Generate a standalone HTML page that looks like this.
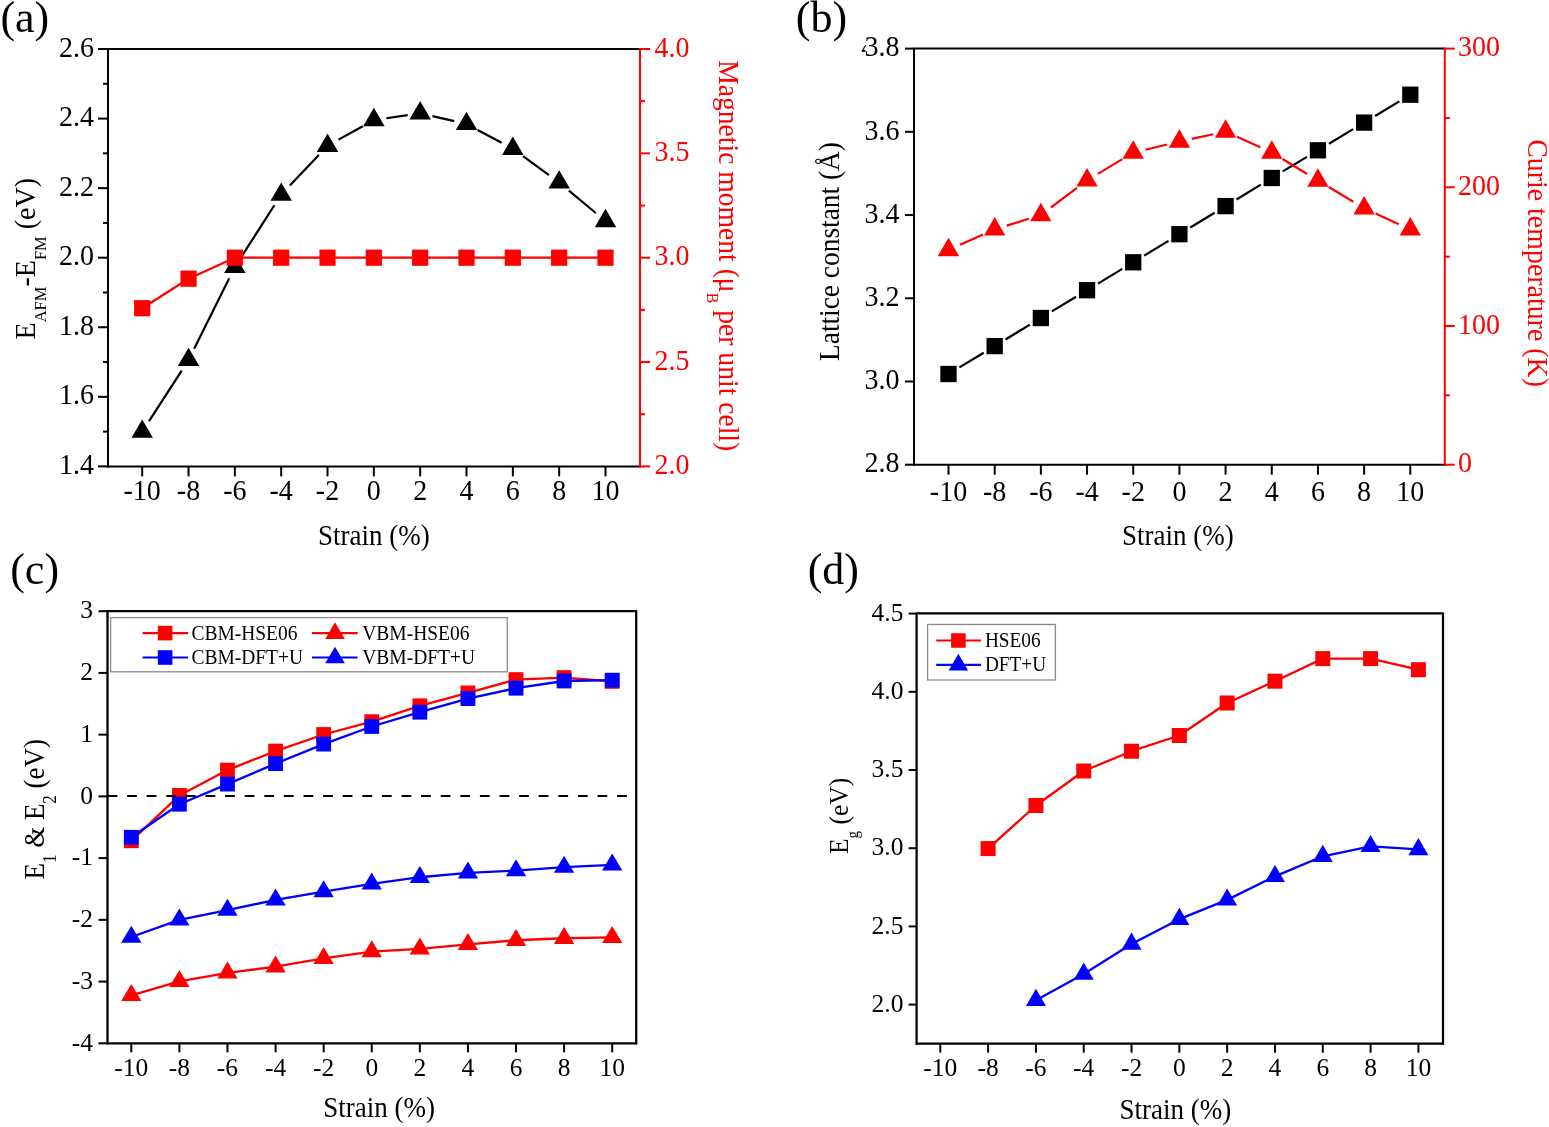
<!DOCTYPE html>
<html><head><meta charset="utf-8"><title>Strain dependence</title>
<style>html,body{margin:0;padding:0;background:#fff;}svg{display:block;}</style>
</head><body>
<svg width="1549" height="1127" viewBox="0 0 1549 1127" font-family="&apos;Liberation Serif&apos;, serif">
<rect width="1549" height="1127" fill="#fff"/>
<line x1="107" y1="49" x2="640" y2="49" stroke="#000000" stroke-width="2" />
<line x1="108" y1="49" x2="108" y2="467.4" stroke="#000000" stroke-width="2" />
<line x1="107" y1="466.4" x2="641" y2="466.4" stroke="#000000" stroke-width="2" />
<line x1="640" y1="48" x2="640" y2="467.4" stroke="#ff0000" stroke-width="2" />
<line x1="98" y1="466.4" x2="108" y2="466.4" stroke="#000000" stroke-width="2" />
<text transform="translate(94.1,474) scale(1,1.04)" font-size="28" text-anchor="end" fill="#000000" >1.4</text>
<line x1="103" y1="431.62" x2="108" y2="431.62" stroke="#000000" stroke-width="2" />
<line x1="98" y1="396.83" x2="108" y2="396.83" stroke="#000000" stroke-width="2" />
<text transform="translate(94.1,404.43) scale(1,1.04)" font-size="28" text-anchor="end" fill="#000000" >1.6</text>
<line x1="103" y1="362.05" x2="108" y2="362.05" stroke="#000000" stroke-width="2" />
<line x1="98" y1="327.27" x2="108" y2="327.27" stroke="#000000" stroke-width="2" />
<text transform="translate(94.1,334.87) scale(1,1.04)" font-size="28" text-anchor="end" fill="#000000" >1.8</text>
<line x1="103" y1="292.48" x2="108" y2="292.48" stroke="#000000" stroke-width="2" />
<line x1="98" y1="257.7" x2="108" y2="257.7" stroke="#000000" stroke-width="2" />
<text transform="translate(94.1,265.3) scale(1,1.04)" font-size="28" text-anchor="end" fill="#000000" >2.0</text>
<line x1="103" y1="222.92" x2="108" y2="222.92" stroke="#000000" stroke-width="2" />
<line x1="98" y1="188.13" x2="108" y2="188.13" stroke="#000000" stroke-width="2" />
<text transform="translate(94.1,195.73) scale(1,1.04)" font-size="28" text-anchor="end" fill="#000000" >2.2</text>
<line x1="103" y1="153.35" x2="108" y2="153.35" stroke="#000000" stroke-width="2" />
<line x1="98" y1="118.57" x2="108" y2="118.57" stroke="#000000" stroke-width="2" />
<text transform="translate(94.1,126.17) scale(1,1.04)" font-size="28" text-anchor="end" fill="#000000" >2.4</text>
<line x1="103" y1="83.78" x2="108" y2="83.78" stroke="#000000" stroke-width="2" />
<line x1="98" y1="49" x2="108" y2="49" stroke="#000000" stroke-width="2" />
<text transform="translate(94.1,56.6) scale(1,1.04)" font-size="28" text-anchor="end" fill="#000000" >2.6</text>
<line x1="640" y1="466.4" x2="650" y2="466.4" stroke="#ff0000" stroke-width="2" />
<text transform="translate(654.5,474) scale(1,1.04)" font-size="28" text-anchor="start" fill="#ff0000" >2.0</text>
<line x1="640" y1="414.22" x2="645" y2="414.22" stroke="#ff0000" stroke-width="2" />
<line x1="640" y1="362.05" x2="650" y2="362.05" stroke="#ff0000" stroke-width="2" />
<text transform="translate(654.5,369.65) scale(1,1.04)" font-size="28" text-anchor="start" fill="#ff0000" >2.5</text>
<line x1="640" y1="309.88" x2="645" y2="309.88" stroke="#ff0000" stroke-width="2" />
<line x1="640" y1="257.7" x2="650" y2="257.7" stroke="#ff0000" stroke-width="2" />
<text transform="translate(654.5,265.3) scale(1,1.04)" font-size="28" text-anchor="start" fill="#ff0000" >3.0</text>
<line x1="640" y1="205.52" x2="645" y2="205.52" stroke="#ff0000" stroke-width="2" />
<line x1="640" y1="153.35" x2="650" y2="153.35" stroke="#ff0000" stroke-width="2" />
<text transform="translate(654.5,160.95) scale(1,1.04)" font-size="28" text-anchor="start" fill="#ff0000" >3.5</text>
<line x1="640" y1="101.18" x2="645" y2="101.18" stroke="#ff0000" stroke-width="2" />
<line x1="640" y1="49" x2="650" y2="49" stroke="#ff0000" stroke-width="2" />
<text transform="translate(654.5,56.6) scale(1,1.04)" font-size="28" text-anchor="start" fill="#ff0000" >4.0</text>
<line x1="142.2" y1="466.4" x2="142.2" y2="476.4" stroke="#000000" stroke-width="2" />
<text transform="translate(142.2,500) scale(1,1.04)" font-size="28" text-anchor="middle" fill="#000000" >-10</text>
<line x1="188.53" y1="466.4" x2="188.53" y2="476.4" stroke="#000000" stroke-width="2" />
<text transform="translate(188.53,500) scale(1,1.04)" font-size="28" text-anchor="middle" fill="#000000" >-8</text>
<line x1="234.86" y1="466.4" x2="234.86" y2="476.4" stroke="#000000" stroke-width="2" />
<text transform="translate(234.86,500) scale(1,1.04)" font-size="28" text-anchor="middle" fill="#000000" >-6</text>
<line x1="281.19" y1="466.4" x2="281.19" y2="476.4" stroke="#000000" stroke-width="2" />
<text transform="translate(281.19,500) scale(1,1.04)" font-size="28" text-anchor="middle" fill="#000000" >-4</text>
<line x1="327.52" y1="466.4" x2="327.52" y2="476.4" stroke="#000000" stroke-width="2" />
<text transform="translate(327.52,500) scale(1,1.04)" font-size="28" text-anchor="middle" fill="#000000" >-2</text>
<line x1="373.85" y1="466.4" x2="373.85" y2="476.4" stroke="#000000" stroke-width="2" />
<text transform="translate(373.85,500) scale(1,1.04)" font-size="28" text-anchor="middle" fill="#000000" >0</text>
<line x1="420.18" y1="466.4" x2="420.18" y2="476.4" stroke="#000000" stroke-width="2" />
<text transform="translate(420.18,500) scale(1,1.04)" font-size="28" text-anchor="middle" fill="#000000" >2</text>
<line x1="466.51" y1="466.4" x2="466.51" y2="476.4" stroke="#000000" stroke-width="2" />
<text transform="translate(466.51,500) scale(1,1.04)" font-size="28" text-anchor="middle" fill="#000000" >4</text>
<line x1="512.84" y1="466.4" x2="512.84" y2="476.4" stroke="#000000" stroke-width="2" />
<text transform="translate(512.84,500) scale(1,1.04)" font-size="28" text-anchor="middle" fill="#000000" >6</text>
<line x1="559.17" y1="466.4" x2="559.17" y2="476.4" stroke="#000000" stroke-width="2" />
<text transform="translate(559.17,500) scale(1,1.04)" font-size="28" text-anchor="middle" fill="#000000" >8</text>
<line x1="605.5" y1="466.4" x2="605.5" y2="476.4" stroke="#000000" stroke-width="2" />
<text transform="translate(605.5,500) scale(1,1.04)" font-size="28" text-anchor="middle" fill="#000000" >10</text>
<text transform="translate(318,544.8) scale(1,1.06)" font-size="27" text-anchor="start" fill="#000000" >Strain (%)</text>
<text transform="translate(35,339.4) rotate(-90) scale(1,1.06)" font-size="28" fill="#000000">E<tspan font-size="16.5" dy="10.5">AFM</tspan><tspan dy="-10.5">-E</tspan><tspan font-size="16.5" dy="10.5">FM</tspan><tspan dy="-10.5"> (eV)</tspan></text>
<text transform="translate(719.1,60.2) rotate(90) scale(1,1.06)" font-size="27.6" fill="#ff0000">Magnetic moment (μ<tspan font-size="16" dy="11">B</tspan><tspan dy="-11"> per unit cell)</tspan></text>
<text transform="translate(0.4,31.6) scale(1,1.0)" font-size="44" text-anchor="start" fill="#000000" >(a)</text>
<line x1="149.04" y1="421.08" x2="181.69" y2="370.55" stroke="#000000" stroke-width="2.2" />
<line x1="194.15" y1="348.69" x2="229.24" y2="278.24" stroke="#000000" stroke-width="2.2" />
<line x1="241.66" y1="256.36" x2="274.39" y2="205.28" stroke="#000000" stroke-width="2.2" />
<line x1="289.86" y1="185.52" x2="318.85" y2="154.91" stroke="#000000" stroke-width="2.2" />
<line x1="338.54" y1="139.65" x2="362.83" y2="126.18" stroke="#000000" stroke-width="2.2" />
<line x1="386.32" y1="118.24" x2="407.71" y2="115.1" stroke="#000000" stroke-width="2.2" />
<line x1="432.46" y1="116.1" x2="454.23" y2="121.13" stroke="#000000" stroke-width="2.2" />
<line x1="477.62" y1="129.91" x2="501.73" y2="142.82" stroke="#000000" stroke-width="2.2" />
<line x1="523.03" y1="156.18" x2="548.98" y2="175.05" stroke="#000000" stroke-width="2.2" />
<line x1="568.85" y1="190.53" x2="595.82" y2="213" stroke="#000000" stroke-width="2.2" />
<polygon points="142.2,419.4 152.95,437.8 131.45,437.8" fill="#000000"/>
<polygon points="188.53,347.7 199.28,366.1 177.78,366.1" fill="#000000"/>
<polygon points="234.86,254.7 245.61,273.1 224.11,273.1" fill="#000000"/>
<polygon points="281.19,182.4 291.94,200.8 270.44,200.8" fill="#000000"/>
<polygon points="327.52,133.5 338.27,151.9 316.77,151.9" fill="#000000"/>
<polygon points="373.85,107.8 384.6,126.2 363.1,126.2" fill="#000000"/>
<polygon points="420.18,101 430.93,119.4 409.43,119.4" fill="#000000"/>
<polygon points="466.51,111.7 477.26,130.1 455.76,130.1" fill="#000000"/>
<polygon points="512.84,136.5 523.59,154.9 502.09,154.9" fill="#000000"/>
<polygon points="559.17,170.2 569.92,188.6 548.42,188.6" fill="#000000"/>
<polygon points="605.5,208.8 616.25,227.2 594.75,227.2" fill="#000000"/>
<polyline points="142.2,308.2 188.53,278.7 234.86,257.7 281.19,257.7 327.52,257.7 373.85,257.7 420.18,257.7 466.51,257.7 512.84,257.7 559.17,257.7 605.5,257.7" fill="none" stroke="#ff0000" stroke-width="2.2" stroke-linejoin="round"/>
<rect x="134.1" y="300.1" width="16.2" height="16.2" fill="#ff0000"/>
<rect x="180.43" y="270.6" width="16.2" height="16.2" fill="#ff0000"/>
<rect x="226.76" y="249.6" width="16.2" height="16.2" fill="#ff0000"/>
<rect x="273.09" y="249.6" width="16.2" height="16.2" fill="#ff0000"/>
<rect x="319.42" y="249.6" width="16.2" height="16.2" fill="#ff0000"/>
<rect x="365.75" y="249.6" width="16.2" height="16.2" fill="#ff0000"/>
<rect x="412.08" y="249.6" width="16.2" height="16.2" fill="#ff0000"/>
<rect x="458.41" y="249.6" width="16.2" height="16.2" fill="#ff0000"/>
<rect x="504.74" y="249.6" width="16.2" height="16.2" fill="#ff0000"/>
<rect x="551.07" y="249.6" width="16.2" height="16.2" fill="#ff0000"/>
<rect x="597.4" y="249.6" width="16.2" height="16.2" fill="#ff0000"/>
<line x1="913" y1="48.6" x2="1444.8" y2="48.6" stroke="#000000" stroke-width="2" />
<line x1="914" y1="48.6" x2="914" y2="465.7" stroke="#000000" stroke-width="2" />
<line x1="913" y1="464.7" x2="1445.8" y2="464.7" stroke="#000000" stroke-width="2" />
<line x1="1444.8" y1="47.6" x2="1444.8" y2="465.7" stroke="#ff0000" stroke-width="2" />
<line x1="905" y1="464.7" x2="914" y2="464.7" stroke="#000000" stroke-width="2" />
<text transform="translate(899.5,472.4) scale(1,1.04)" font-size="28" text-anchor="end" fill="#000000" >2.8</text>
<line x1="905" y1="381.48" x2="914" y2="381.48" stroke="#000000" stroke-width="2" />
<text transform="translate(899.5,389.18) scale(1,1.04)" font-size="28" text-anchor="end" fill="#000000" >3.0</text>
<line x1="905" y1="298.26" x2="914" y2="298.26" stroke="#000000" stroke-width="2" />
<text transform="translate(899.5,305.96) scale(1,1.04)" font-size="28" text-anchor="end" fill="#000000" >3.2</text>
<line x1="905" y1="215.04" x2="914" y2="215.04" stroke="#000000" stroke-width="2" />
<text transform="translate(899.5,222.74) scale(1,1.04)" font-size="28" text-anchor="end" fill="#000000" >3.4</text>
<line x1="905" y1="131.82" x2="914" y2="131.82" stroke="#000000" stroke-width="2" />
<text transform="translate(899.5,139.52) scale(1,1.04)" font-size="28" text-anchor="end" fill="#000000" >3.6</text>
<line x1="905" y1="48.6" x2="914" y2="48.6" stroke="#000000" stroke-width="2" />
<text transform="translate(899.5,56.3) scale(1,1.04)" font-size="28" text-anchor="end" fill="#000000" >3.8</text>
<line x1="1444.8" y1="464.7" x2="1454.8" y2="464.7" stroke="#ff0000" stroke-width="2" />
<text transform="translate(1458,472.4) scale(1,1.04)" font-size="28" text-anchor="start" fill="#ff0000" >0</text>
<line x1="1444.8" y1="395.35" x2="1449.8" y2="395.35" stroke="#ff0000" stroke-width="2" />
<line x1="1444.8" y1="326" x2="1454.8" y2="326" stroke="#ff0000" stroke-width="2" />
<text transform="translate(1458,333.7) scale(1,1.04)" font-size="28" text-anchor="start" fill="#ff0000" >100</text>
<line x1="1444.8" y1="256.65" x2="1449.8" y2="256.65" stroke="#ff0000" stroke-width="2" />
<line x1="1444.8" y1="187.3" x2="1454.8" y2="187.3" stroke="#ff0000" stroke-width="2" />
<text transform="translate(1458,195) scale(1,1.04)" font-size="28" text-anchor="start" fill="#ff0000" >200</text>
<line x1="1444.8" y1="117.95" x2="1449.8" y2="117.95" stroke="#ff0000" stroke-width="2" />
<line x1="1444.8" y1="48.6" x2="1454.8" y2="48.6" stroke="#ff0000" stroke-width="2" />
<text transform="translate(1458,56.3) scale(1,1.04)" font-size="28" text-anchor="start" fill="#ff0000" >300</text>
<line x1="948.5" y1="464.7" x2="948.5" y2="474.7" stroke="#000000" stroke-width="2" />
<text transform="translate(948.5,501.4) scale(1,1.04)" font-size="28" text-anchor="middle" fill="#000000" >-10</text>
<line x1="994.68" y1="464.7" x2="994.68" y2="474.7" stroke="#000000" stroke-width="2" />
<text transform="translate(994.68,501.4) scale(1,1.04)" font-size="28" text-anchor="middle" fill="#000000" >-8</text>
<line x1="1040.86" y1="464.7" x2="1040.86" y2="474.7" stroke="#000000" stroke-width="2" />
<text transform="translate(1040.86,501.4) scale(1,1.04)" font-size="28" text-anchor="middle" fill="#000000" >-6</text>
<line x1="1087.04" y1="464.7" x2="1087.04" y2="474.7" stroke="#000000" stroke-width="2" />
<text transform="translate(1087.04,501.4) scale(1,1.04)" font-size="28" text-anchor="middle" fill="#000000" >-4</text>
<line x1="1133.22" y1="464.7" x2="1133.22" y2="474.7" stroke="#000000" stroke-width="2" />
<text transform="translate(1133.22,501.4) scale(1,1.04)" font-size="28" text-anchor="middle" fill="#000000" >-2</text>
<line x1="1179.4" y1="464.7" x2="1179.4" y2="474.7" stroke="#000000" stroke-width="2" />
<text transform="translate(1179.4,501.4) scale(1,1.04)" font-size="28" text-anchor="middle" fill="#000000" >0</text>
<line x1="1225.58" y1="464.7" x2="1225.58" y2="474.7" stroke="#000000" stroke-width="2" />
<text transform="translate(1225.58,501.4) scale(1,1.04)" font-size="28" text-anchor="middle" fill="#000000" >2</text>
<line x1="1271.76" y1="464.7" x2="1271.76" y2="474.7" stroke="#000000" stroke-width="2" />
<text transform="translate(1271.76,501.4) scale(1,1.04)" font-size="28" text-anchor="middle" fill="#000000" >4</text>
<line x1="1317.94" y1="464.7" x2="1317.94" y2="474.7" stroke="#000000" stroke-width="2" />
<text transform="translate(1317.94,501.4) scale(1,1.04)" font-size="28" text-anchor="middle" fill="#000000" >6</text>
<line x1="1364.12" y1="464.7" x2="1364.12" y2="474.7" stroke="#000000" stroke-width="2" />
<text transform="translate(1364.12,501.4) scale(1,1.04)" font-size="28" text-anchor="middle" fill="#000000" >8</text>
<line x1="1410.3" y1="464.7" x2="1410.3" y2="474.7" stroke="#000000" stroke-width="2" />
<text transform="translate(1410.3,501.4) scale(1,1.04)" font-size="28" text-anchor="middle" fill="#000000" >10</text>
<text transform="translate(1122.1,544.8) scale(1,1.06)" font-size="27" text-anchor="start" fill="#000000" >Strain (%)</text>
<text transform="translate(838.8,361) rotate(-90) scale(1,1.06)" font-size="27.4" fill="#000000">Lattice constant (Å)</text>
<text transform="translate(1527.5,139.2) rotate(90) scale(1,1.06)" font-size="27.9" fill="#ff0000">Curie temperature (K)</text>
<text transform="translate(795.8,31.6) scale(1,1.0)" font-size="44" text-anchor="start" fill="#000000" >(b)</text>
<line x1="959.46" y1="367.38" x2="983.72" y2="352.72" stroke="#000000" stroke-width="2.2" />
<line x1="1005.61" y1="339.45" x2="1029.93" y2="324.65" stroke="#000000" stroke-width="2.2" />
<line x1="1051.83" y1="311.4" x2="1076.07" y2="296.8" stroke="#000000" stroke-width="2.2" />
<line x1="1098" y1="283.58" x2="1122.26" y2="268.92" stroke="#000000" stroke-width="2.2" />
<line x1="1144.15" y1="255.65" x2="1168.47" y2="240.85" stroke="#000000" stroke-width="2.2" />
<line x1="1190.33" y1="227.55" x2="1214.65" y2="212.75" stroke="#000000" stroke-width="2.2" />
<line x1="1236.51" y1="199.45" x2="1260.83" y2="184.65" stroke="#000000" stroke-width="2.2" />
<line x1="1282.74" y1="171.42" x2="1306.96" y2="156.88" stroke="#000000" stroke-width="2.2" />
<line x1="1328.92" y1="143.72" x2="1353.14" y2="129.18" stroke="#000000" stroke-width="2.2" />
<line x1="1375.08" y1="115.98" x2="1399.34" y2="101.32" stroke="#000000" stroke-width="2.2" />
<rect x="940.35" y="365.85" width="16.3" height="16.3" fill="#000000"/>
<rect x="986.53" y="337.95" width="16.3" height="16.3" fill="#000000"/>
<rect x="1032.71" y="309.85" width="16.3" height="16.3" fill="#000000"/>
<rect x="1078.89" y="282.05" width="16.3" height="16.3" fill="#000000"/>
<rect x="1125.07" y="254.15" width="16.3" height="16.3" fill="#000000"/>
<rect x="1171.25" y="226.05" width="16.3" height="16.3" fill="#000000"/>
<rect x="1217.43" y="197.95" width="16.3" height="16.3" fill="#000000"/>
<rect x="1263.61" y="169.85" width="16.3" height="16.3" fill="#000000"/>
<rect x="1309.79" y="142.15" width="16.3" height="16.3" fill="#000000"/>
<rect x="1355.97" y="114.45" width="16.3" height="16.3" fill="#000000"/>
<rect x="1402.15" y="86.55" width="16.3" height="16.3" fill="#000000"/>
<line x1="960.01" y1="244.85" x2="983.17" y2="234.52" stroke="#ff0000" stroke-width="2.2" />
<line x1="1006.72" y1="225.66" x2="1028.82" y2="218.81" stroke="#ff0000" stroke-width="2.2" />
<line x1="1050.92" y1="207.5" x2="1076.98" y2="187.87" stroke="#ff0000" stroke-width="2.2" />
<line x1="1097.86" y1="173.82" x2="1122.4" y2="159.15" stroke="#ff0000" stroke-width="2.2" />
<line x1="1145.47" y1="149.71" x2="1167.15" y2="144.45" stroke="#ff0000" stroke-width="2.2" />
<line x1="1191.72" y1="138.84" x2="1213.26" y2="134.22" stroke="#ff0000" stroke-width="2.2" />
<line x1="1237.06" y1="136.78" x2="1260.28" y2="147.29" stroke="#ff0000" stroke-width="2.2" />
<line x1="1282.52" y1="159.03" x2="1307.18" y2="174.03" stroke="#ff0000" stroke-width="2.2" />
<line x1="1328.75" y1="187.06" x2="1353.31" y2="201.8" stroke="#ff0000" stroke-width="2.2" />
<line x1="1375.58" y1="213.52" x2="1398.84" y2="224.15" stroke="#ff0000" stroke-width="2.2" />
<polygon points="948.5,237.65 959.15,256.15 937.85,256.15" fill="#ff0000"/>
<polygon points="994.68,217.05 1005.33,235.55 984.03,235.55" fill="#ff0000"/>
<polygon points="1040.86,202.75 1051.51,221.25 1030.21,221.25" fill="#ff0000"/>
<polygon points="1087.04,167.95 1097.69,186.45 1076.39,186.45" fill="#ff0000"/>
<polygon points="1133.22,140.35 1143.87,158.85 1122.57,158.85" fill="#ff0000"/>
<polygon points="1179.4,129.15 1190.05,147.65 1168.75,147.65" fill="#ff0000"/>
<polygon points="1225.58,119.25 1236.23,137.75 1214.93,137.75" fill="#ff0000"/>
<polygon points="1271.76,140.15 1282.41,158.65 1261.11,158.65" fill="#ff0000"/>
<polygon points="1317.94,168.25 1328.59,186.75 1307.29,186.75" fill="#ff0000"/>
<polygon points="1364.12,195.95 1374.77,214.45 1353.47,214.45" fill="#ff0000"/>
<polygon points="1410.3,217.05 1420.95,235.55 1399.65,235.55" fill="#ff0000"/>
<path d="M865.7,45.2 L862.5,50.2" fill="none" stroke="#000" stroke-width="1.1"/><ellipse cx="863.6" cy="50.9" rx="2.1" ry="1.1" fill="#000"/>
<line x1="106.5" y1="611.2" x2="636.2" y2="611.2" stroke="#000000" stroke-width="2.3" />
<line x1="107.5" y1="611.2" x2="107.5" y2="1044.3" stroke="#000000" stroke-width="2.3" />
<line x1="106.5" y1="1043.3" x2="637.2" y2="1043.3" stroke="#000000" stroke-width="2.3" />
<line x1="636.2" y1="610.2" x2="636.2" y2="1044.3" stroke="#000000" stroke-width="2.3" />
<line x1="98.5" y1="1043.3" x2="107.5" y2="1043.3" stroke="#000000" stroke-width="2" />
<text transform="translate(93.1,1050.5) scale(1,1.02)" font-size="25.5" text-anchor="end" fill="#000000" >-4</text>
<line x1="98.5" y1="981.57" x2="107.5" y2="981.57" stroke="#000000" stroke-width="2" />
<text transform="translate(93.1,988.77) scale(1,1.02)" font-size="25.5" text-anchor="end" fill="#000000" >-3</text>
<line x1="98.5" y1="919.84" x2="107.5" y2="919.84" stroke="#000000" stroke-width="2" />
<text transform="translate(93.1,927.04) scale(1,1.02)" font-size="25.5" text-anchor="end" fill="#000000" >-2</text>
<line x1="98.5" y1="858.11" x2="107.5" y2="858.11" stroke="#000000" stroke-width="2" />
<text transform="translate(93.1,865.31) scale(1,1.02)" font-size="25.5" text-anchor="end" fill="#000000" >-1</text>
<line x1="98.5" y1="796.39" x2="107.5" y2="796.39" stroke="#000000" stroke-width="2" />
<text transform="translate(93.1,803.59) scale(1,1.02)" font-size="25.5" text-anchor="end" fill="#000000" >0</text>
<line x1="98.5" y1="734.66" x2="107.5" y2="734.66" stroke="#000000" stroke-width="2" />
<text transform="translate(93.1,741.86) scale(1,1.02)" font-size="25.5" text-anchor="end" fill="#000000" >1</text>
<line x1="98.5" y1="672.93" x2="107.5" y2="672.93" stroke="#000000" stroke-width="2" />
<text transform="translate(93.1,680.13) scale(1,1.02)" font-size="25.5" text-anchor="end" fill="#000000" >2</text>
<line x1="98.5" y1="611.2" x2="107.5" y2="611.2" stroke="#000000" stroke-width="2" />
<text transform="translate(93.1,618.4) scale(1,1.02)" font-size="25.5" text-anchor="end" fill="#000000" >3</text>
<line x1="131.3" y1="1043.3" x2="131.3" y2="1052.3" stroke="#000000" stroke-width="2" />
<text transform="translate(131.3,1075.6) scale(1,1.02)" font-size="25.5" text-anchor="middle" fill="#000000" >-10</text>
<line x1="179.39" y1="1043.3" x2="179.39" y2="1052.3" stroke="#000000" stroke-width="2" />
<text transform="translate(179.39,1075.6) scale(1,1.02)" font-size="25.5" text-anchor="middle" fill="#000000" >-8</text>
<line x1="227.48" y1="1043.3" x2="227.48" y2="1052.3" stroke="#000000" stroke-width="2" />
<text transform="translate(227.48,1075.6) scale(1,1.02)" font-size="25.5" text-anchor="middle" fill="#000000" >-6</text>
<line x1="275.57" y1="1043.3" x2="275.57" y2="1052.3" stroke="#000000" stroke-width="2" />
<text transform="translate(275.57,1075.6) scale(1,1.02)" font-size="25.5" text-anchor="middle" fill="#000000" >-4</text>
<line x1="323.66" y1="1043.3" x2="323.66" y2="1052.3" stroke="#000000" stroke-width="2" />
<text transform="translate(323.66,1075.6) scale(1,1.02)" font-size="25.5" text-anchor="middle" fill="#000000" >-2</text>
<line x1="371.75" y1="1043.3" x2="371.75" y2="1052.3" stroke="#000000" stroke-width="2" />
<text transform="translate(371.75,1075.6) scale(1,1.02)" font-size="25.5" text-anchor="middle" fill="#000000" >0</text>
<line x1="419.84" y1="1043.3" x2="419.84" y2="1052.3" stroke="#000000" stroke-width="2" />
<text transform="translate(419.84,1075.6) scale(1,1.02)" font-size="25.5" text-anchor="middle" fill="#000000" >2</text>
<line x1="467.93" y1="1043.3" x2="467.93" y2="1052.3" stroke="#000000" stroke-width="2" />
<text transform="translate(467.93,1075.6) scale(1,1.02)" font-size="25.5" text-anchor="middle" fill="#000000" >4</text>
<line x1="516.02" y1="1043.3" x2="516.02" y2="1052.3" stroke="#000000" stroke-width="2" />
<text transform="translate(516.02,1075.6) scale(1,1.02)" font-size="25.5" text-anchor="middle" fill="#000000" >6</text>
<line x1="564.11" y1="1043.3" x2="564.11" y2="1052.3" stroke="#000000" stroke-width="2" />
<text transform="translate(564.11,1075.6) scale(1,1.02)" font-size="25.5" text-anchor="middle" fill="#000000" >8</text>
<line x1="612.2" y1="1043.3" x2="612.2" y2="1052.3" stroke="#000000" stroke-width="2" />
<text transform="translate(612.2,1075.6) scale(1,1.02)" font-size="25.5" text-anchor="middle" fill="#000000" >10</text>
<text transform="translate(323.3,1117.4) scale(1,1.06)" font-size="27" text-anchor="start" fill="#000000" >Strain (%)</text>
<text transform="translate(44.4,879.6) rotate(-90) scale(1,1.06)" font-size="27" fill="#000000">E<tspan font-size="17" dy="11">1</tspan><tspan dy="-11"> &amp; E</tspan><tspan font-size="17" dy="11">2</tspan><tspan dy="-11"> (eV)</tspan></text>
<text transform="translate(10.2,583.7) scale(1,1.0)" font-size="44" text-anchor="start" fill="#000000" >(c)</text>
<rect x="110.6" y="617.6" width="396.7" height="54.2" fill="#fff" stroke="#8a8a8a" stroke-width="1.3"/>
<line x1="142.6" y1="633.1" x2="188.1" y2="633.1" stroke="#ff0000" stroke-width="2.2" />
<rect x="157.8" y="625.8" width="14.6" height="14.6" fill="#ff0000"/>
<text transform="translate(191.4,640.1) scale(1,1.06)" font-size="19.5" text-anchor="start" fill="#000000" >CBM-HSE06</text>
<line x1="312" y1="633.1" x2="357.6" y2="633.1" stroke="#ff0000" stroke-width="2.2" />
<polygon points="335,622.27 344.8,638.97 325.2,638.97" fill="#ff0000"/>
<text transform="translate(362.3,640.1) scale(1,1.06)" font-size="19.5" text-anchor="start" fill="#000000" >VBM-HSE06</text>
<line x1="142.6" y1="657.5" x2="188.1" y2="657.5" stroke="#0000ff" stroke-width="2.2" />
<rect x="157.8" y="650.2" width="14.6" height="14.6" fill="#0000ff"/>
<text transform="translate(191.4,663.9) scale(1,1.06)" font-size="19.5" text-anchor="start" fill="#000000" >CBM-DFT+U</text>
<line x1="312" y1="657.5" x2="357.6" y2="657.5" stroke="#0000ff" stroke-width="2.2" />
<polygon points="335,646.67 344.8,663.37 325.2,663.37" fill="#0000ff"/>
<text transform="translate(362.3,663.9) scale(1,1.06)" font-size="19.5" text-anchor="start" fill="#000000" >VBM-DFT+U</text>
<polyline points="131.3,840.8 179.39,795.4 227.48,770.1 275.57,751.1 323.66,734.5 371.75,721.7 419.84,705.8 467.93,692.9 516.02,679.6 564.11,677.6 612.2,681.4" fill="none" stroke="#ff0000" stroke-width="2.3" stroke-linejoin="round"/>
<rect x="123.9" y="833.4" width="14.8" height="14.8" fill="#ff0000"/>
<rect x="171.99" y="788" width="14.8" height="14.8" fill="#ff0000"/>
<rect x="220.08" y="762.7" width="14.8" height="14.8" fill="#ff0000"/>
<rect x="268.17" y="743.7" width="14.8" height="14.8" fill="#ff0000"/>
<rect x="316.26" y="727.1" width="14.8" height="14.8" fill="#ff0000"/>
<rect x="364.35" y="714.3" width="14.8" height="14.8" fill="#ff0000"/>
<rect x="412.44" y="698.4" width="14.8" height="14.8" fill="#ff0000"/>
<rect x="460.53" y="685.5" width="14.8" height="14.8" fill="#ff0000"/>
<rect x="508.62" y="672.2" width="14.8" height="14.8" fill="#ff0000"/>
<rect x="556.71" y="670.2" width="14.8" height="14.8" fill="#ff0000"/>
<rect x="604.8" y="674" width="14.8" height="14.8" fill="#ff0000"/>
<polyline points="131.3,995.43 179.39,981.43 227.48,972.93 275.57,966.73 323.66,958.33 371.75,951.63 419.84,948.83 467.93,944.43 516.02,940.23 564.11,938.23 612.2,937.33" fill="none" stroke="#ff0000" stroke-width="2.3" stroke-linejoin="round"/>
<polygon points="131.3,984.1 141.45,1001.1 121.15,1001.1" fill="#ff0000"/>
<polygon points="179.39,970.1 189.54,987.1 169.24,987.1" fill="#ff0000"/>
<polygon points="227.48,961.6 237.63,978.6 217.33,978.6" fill="#ff0000"/>
<polygon points="275.57,955.4 285.72,972.4 265.42,972.4" fill="#ff0000"/>
<polygon points="323.66,947 333.81,964 313.51,964" fill="#ff0000"/>
<polygon points="371.75,940.3 381.9,957.3 361.6,957.3" fill="#ff0000"/>
<polygon points="419.84,937.5 429.99,954.5 409.69,954.5" fill="#ff0000"/>
<polygon points="467.93,933.1 478.08,950.1 457.78,950.1" fill="#ff0000"/>
<polygon points="516.02,928.9 526.17,945.9 505.87,945.9" fill="#ff0000"/>
<polygon points="564.11,926.9 574.26,943.9 553.96,943.9" fill="#ff0000"/>
<polygon points="612.2,926 622.35,943 602.05,943" fill="#ff0000"/>
<line x1="107.5" y1="796" x2="627.8" y2="796" stroke="#000000" stroke-width="2.2" stroke-dasharray="9.8 9.8"/>
<polyline points="131.3,837.3 179.39,804.2 227.48,784.1 275.57,763.6 323.66,744.1 371.75,726.5 419.84,712.2 467.93,698.6 516.02,688.2 564.11,681 612.2,680.2" fill="none" stroke="#0000ff" stroke-width="2.3" stroke-linejoin="round"/>
<rect x="123.9" y="829.9" width="14.8" height="14.8" fill="#0000ff"/>
<rect x="171.99" y="796.8" width="14.8" height="14.8" fill="#0000ff"/>
<rect x="220.08" y="776.7" width="14.8" height="14.8" fill="#0000ff"/>
<rect x="268.17" y="756.2" width="14.8" height="14.8" fill="#0000ff"/>
<rect x="316.26" y="736.7" width="14.8" height="14.8" fill="#0000ff"/>
<rect x="364.35" y="719.1" width="14.8" height="14.8" fill="#0000ff"/>
<rect x="412.44" y="704.8" width="14.8" height="14.8" fill="#0000ff"/>
<rect x="460.53" y="691.2" width="14.8" height="14.8" fill="#0000ff"/>
<rect x="508.62" y="680.8" width="14.8" height="14.8" fill="#0000ff"/>
<rect x="556.71" y="673.6" width="14.8" height="14.8" fill="#0000ff"/>
<rect x="604.8" y="672.8" width="14.8" height="14.8" fill="#0000ff"/>
<polyline points="131.3,937.03 179.39,919.83 227.48,910.13 275.57,899.83 323.66,891.53 371.75,883.93 419.84,877.23 467.93,872.93 516.02,870.63 564.11,867.03 612.2,864.83" fill="none" stroke="#0000ff" stroke-width="2.3" stroke-linejoin="round"/>
<polygon points="131.3,925.7 141.45,942.7 121.15,942.7" fill="#0000ff"/>
<polygon points="179.39,908.5 189.54,925.5 169.24,925.5" fill="#0000ff"/>
<polygon points="227.48,898.8 237.63,915.8 217.33,915.8" fill="#0000ff"/>
<polygon points="275.57,888.5 285.72,905.5 265.42,905.5" fill="#0000ff"/>
<polygon points="323.66,880.2 333.81,897.2 313.51,897.2" fill="#0000ff"/>
<polygon points="371.75,872.6 381.9,889.6 361.6,889.6" fill="#0000ff"/>
<polygon points="419.84,865.9 429.99,882.9 409.69,882.9" fill="#0000ff"/>
<polygon points="467.93,861.6 478.08,878.6 457.78,878.6" fill="#0000ff"/>
<polygon points="516.02,859.3 526.17,876.3 505.87,876.3" fill="#0000ff"/>
<polygon points="564.11,855.7 574.26,872.7 553.96,872.7" fill="#0000ff"/>
<polygon points="612.2,853.5 622.35,870.5 602.05,870.5" fill="#0000ff"/>
<line x1="915.6" y1="613.4" x2="1443" y2="613.4" stroke="#000000" stroke-width="2.2" />
<line x1="916.6" y1="613.4" x2="916.6" y2="1044.7" stroke="#000000" stroke-width="2.2" />
<line x1="915.6" y1="1043.7" x2="1444" y2="1043.7" stroke="#000000" stroke-width="2.2" />
<line x1="1443" y1="612.4" x2="1443" y2="1044.7" stroke="#000000" stroke-width="2.2" />
<line x1="908.6" y1="1004.6" x2="916.6" y2="1004.6" stroke="#000000" stroke-width="2" />
<text transform="translate(903.4,1011.7) scale(1,1.02)" font-size="25.5" text-anchor="end" fill="#000000" >2.0</text>
<line x1="908.6" y1="926.4" x2="916.6" y2="926.4" stroke="#000000" stroke-width="2" />
<text transform="translate(903.4,933.5) scale(1,1.02)" font-size="25.5" text-anchor="end" fill="#000000" >2.5</text>
<line x1="908.6" y1="848.2" x2="916.6" y2="848.2" stroke="#000000" stroke-width="2" />
<text transform="translate(903.4,855.3) scale(1,1.02)" font-size="25.5" text-anchor="end" fill="#000000" >3.0</text>
<line x1="908.6" y1="770" x2="916.6" y2="770" stroke="#000000" stroke-width="2" />
<text transform="translate(903.4,777.1) scale(1,1.02)" font-size="25.5" text-anchor="end" fill="#000000" >3.5</text>
<line x1="908.6" y1="691.8" x2="916.6" y2="691.8" stroke="#000000" stroke-width="2" />
<text transform="translate(903.4,698.9) scale(1,1.02)" font-size="25.5" text-anchor="end" fill="#000000" >4.0</text>
<line x1="908.6" y1="613.6" x2="916.6" y2="613.6" stroke="#000000" stroke-width="2" />
<text transform="translate(903.4,620.7) scale(1,1.02)" font-size="25.5" text-anchor="end" fill="#000000" >4.5</text>
<line x1="940.3" y1="1043.7" x2="940.3" y2="1052.7" stroke="#000000" stroke-width="2" />
<text transform="translate(940.3,1075.9) scale(1,1.02)" font-size="25.5" text-anchor="middle" fill="#000000" >-10</text>
<line x1="988.11" y1="1043.7" x2="988.11" y2="1052.7" stroke="#000000" stroke-width="2" />
<text transform="translate(988.11,1075.9) scale(1,1.02)" font-size="25.5" text-anchor="middle" fill="#000000" >-8</text>
<line x1="1035.92" y1="1043.7" x2="1035.92" y2="1052.7" stroke="#000000" stroke-width="2" />
<text transform="translate(1035.92,1075.9) scale(1,1.02)" font-size="25.5" text-anchor="middle" fill="#000000" >-6</text>
<line x1="1083.73" y1="1043.7" x2="1083.73" y2="1052.7" stroke="#000000" stroke-width="2" />
<text transform="translate(1083.73,1075.9) scale(1,1.02)" font-size="25.5" text-anchor="middle" fill="#000000" >-4</text>
<line x1="1131.54" y1="1043.7" x2="1131.54" y2="1052.7" stroke="#000000" stroke-width="2" />
<text transform="translate(1131.54,1075.9) scale(1,1.02)" font-size="25.5" text-anchor="middle" fill="#000000" >-2</text>
<line x1="1179.35" y1="1043.7" x2="1179.35" y2="1052.7" stroke="#000000" stroke-width="2" />
<text transform="translate(1179.35,1075.9) scale(1,1.02)" font-size="25.5" text-anchor="middle" fill="#000000" >0</text>
<line x1="1227.16" y1="1043.7" x2="1227.16" y2="1052.7" stroke="#000000" stroke-width="2" />
<text transform="translate(1227.16,1075.9) scale(1,1.02)" font-size="25.5" text-anchor="middle" fill="#000000" >2</text>
<line x1="1274.97" y1="1043.7" x2="1274.97" y2="1052.7" stroke="#000000" stroke-width="2" />
<text transform="translate(1274.97,1075.9) scale(1,1.02)" font-size="25.5" text-anchor="middle" fill="#000000" >4</text>
<line x1="1322.78" y1="1043.7" x2="1322.78" y2="1052.7" stroke="#000000" stroke-width="2" />
<text transform="translate(1322.78,1075.9) scale(1,1.02)" font-size="25.5" text-anchor="middle" fill="#000000" >6</text>
<line x1="1370.59" y1="1043.7" x2="1370.59" y2="1052.7" stroke="#000000" stroke-width="2" />
<text transform="translate(1370.59,1075.9) scale(1,1.02)" font-size="25.5" text-anchor="middle" fill="#000000" >8</text>
<line x1="1418.4" y1="1043.7" x2="1418.4" y2="1052.7" stroke="#000000" stroke-width="2" />
<text transform="translate(1418.4,1075.9) scale(1,1.02)" font-size="25.5" text-anchor="middle" fill="#000000" >10</text>
<text transform="translate(1119.6,1118.5) scale(1,1.06)" font-size="27" text-anchor="start" fill="#000000" >Strain (%)</text>
<text transform="translate(848.2,854) rotate(-90) scale(1,1.06)" font-size="25.5" fill="#000000">E<tspan font-size="15" dy="9.5">g</tspan><tspan dy="-9.5"> (eV)</tspan></text>
<text transform="translate(807.7,584.1) scale(1,1.0)" font-size="44" text-anchor="start" fill="#000000" >(d)</text>
<rect x="927.6" y="624.5" width="127.8" height="55.5" fill="#fff" stroke="#8a8a8a" stroke-width="1.3"/>
<line x1="936.2" y1="640.5" x2="981.1" y2="640.5" stroke="#ff0000" stroke-width="2.2" />
<rect x="951.15" y="633.25" width="14.5" height="14.5" fill="#ff0000"/>
<text transform="translate(984.9,646.8) scale(1,1.06)" font-size="19.3" text-anchor="start" fill="#000000" >HSE06</text>
<line x1="936.2" y1="664.9" x2="981.1" y2="664.9" stroke="#0000ff" stroke-width="2.2" />
<polygon points="958.4,653.63 968.15,670.53 948.65,670.53" fill="#0000ff"/>
<text transform="translate(984.9,671.2) scale(1,1.06)" font-size="19.3" text-anchor="start" fill="#000000" >DFT+U</text>
<polyline points="988.11,848.6 1035.92,805.5 1083.73,771 1131.54,751.2 1179.35,735.5 1227.16,703 1274.97,681.2 1322.78,658.6 1370.59,658.6 1418.4,669.7" fill="none" stroke="#ff0000" stroke-width="2.3" stroke-linejoin="round"/>
<rect x="980.61" y="841.1" width="15" height="15" fill="#ff0000"/>
<rect x="1028.42" y="798" width="15" height="15" fill="#ff0000"/>
<rect x="1076.23" y="763.5" width="15" height="15" fill="#ff0000"/>
<rect x="1124.04" y="743.7" width="15" height="15" fill="#ff0000"/>
<rect x="1171.85" y="728" width="15" height="15" fill="#ff0000"/>
<rect x="1219.66" y="695.5" width="15" height="15" fill="#ff0000"/>
<rect x="1267.47" y="673.7" width="15" height="15" fill="#ff0000"/>
<rect x="1315.28" y="651.1" width="15" height="15" fill="#ff0000"/>
<rect x="1363.09" y="651.1" width="15" height="15" fill="#ff0000"/>
<rect x="1410.9" y="662.2" width="15" height="15" fill="#ff0000"/>
<polyline points="1035.92,1000.27 1083.73,973.97 1131.54,943.97 1179.35,919.17 1227.16,899.87 1274.97,876.37 1322.78,856.27 1370.59,846.37 1418.4,849.47" fill="none" stroke="#0000ff" stroke-width="2.3" stroke-linejoin="round"/>
<polygon points="1035.92,988.8 1045.92,1006 1025.92,1006" fill="#0000ff"/>
<polygon points="1083.73,962.5 1093.73,979.7 1073.73,979.7" fill="#0000ff"/>
<polygon points="1131.54,932.5 1141.54,949.7 1121.54,949.7" fill="#0000ff"/>
<polygon points="1179.35,907.7 1189.35,924.9 1169.35,924.9" fill="#0000ff"/>
<polygon points="1227.16,888.4 1237.16,905.6 1217.16,905.6" fill="#0000ff"/>
<polygon points="1274.97,864.9 1284.97,882.1 1264.97,882.1" fill="#0000ff"/>
<polygon points="1322.78,844.8 1332.78,862 1312.78,862" fill="#0000ff"/>
<polygon points="1370.59,834.9 1380.59,852.1 1360.59,852.1" fill="#0000ff"/>
<polygon points="1418.4,838 1428.4,855.2 1408.4,855.2" fill="#0000ff"/>
</svg>
</body></html>
